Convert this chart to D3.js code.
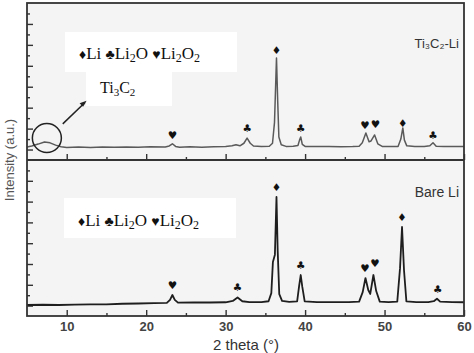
<!DOCTYPE html>
<html>
<head>
<meta charset="utf-8">
<script src="https://cdn.jsdelivr.net/npm/d3@7"></script>
<style>
  body { margin: 0; background: #fff; }
  svg { display: block; }
</style>
</head>
<body>
<div id="chart"></div>
<script>
var w = 474;
var h = 353;

// 2 theta (deg) vs intensity (a.u.)
var topPattern = [
  [5, 1.24], [5.6, 1.34], [6.4, 1.52], [7.2, 1.72], [7.9, 1.64], [8.6, 1.42], [9.3, 1.26],
  [10, 1.2], [11.5, 1.24], [13, 1.2], [14.5, 1.25], [16, 1.21], [17.5, 1.25], [19, 1.22],
  [20.5, 1.26], [22.4, 1.24], [22.9, 1.34], [23.3, 1.55], [23.7, 1.3], [24.2, 1.22],
  [25.5, 1.26], [27, 1.22], [28.5, 1.27], [30, 1.3], [30.8, 1.36], [31.3, 1.45],
  [31.8, 1.36], [32.3, 1.6], [32.7, 2.1], [33.1, 1.6], [33.5, 1.34], [34.5, 1.3],
  [35.5, 1.32], [35.9, 1.6], [36.15, 3.6], [36.4, 9.74], [36.55, 5.7], [36.7, 2.2],
  [37, 1.45], [37.6, 1.3], [38.5, 1.32], [39.1, 1.38], [39.3, 1.9], [39.45, 2.2],
  [39.65, 1.5], [40, 1.3], [41.5, 1.28], [43, 1.3], [44.5, 1.26], [46, 1.28],
  [46.8, 1.32], [47.2, 1.65], [47.65, 2.58], [48.05, 1.75], [48.3, 1.82], [48.75, 2.39],
  [49.15, 1.55], [49.7, 1.3], [50.8, 1.28], [51.7, 1.3], [52.05, 2.0], [52.3, 3.06],
  [52.5, 1.9], [52.8, 1.35], [53.8, 1.28], [55, 1.3], [55.7, 1.36], [56.1, 1.65],
  [56.5, 1.32], [57.5, 1.28], [59, 1.3], [60, 1.28]
];
var bottomPattern = [
  [5, 1.06], [7, 1.08], [9, 1.06], [11, 1.1], [13, 1.12], [15, 1.12], [17, 1.18],
  [19, 1.2], [21, 1.24], [22.6, 1.26], [23, 1.55], [23.3, 2.02], [23.6, 1.55],
  [24, 1.28], [26, 1.3], [28, 1.3], [30, 1.32], [30.9, 1.45], [31.5, 1.78],
  [32.1, 1.42], [33, 1.34], [34.5, 1.34], [35.4, 1.42], [35.75, 2.2], [35.95, 5.2],
  [36.2, 5.9], [36.4, 11.44], [36.55, 6.3], [36.75, 2.1], [37.1, 1.45], [38, 1.36],
  [39, 1.4], [39.25, 2.9], [39.45, 3.94], [39.65, 2.8], [39.95, 1.4], [41.5, 1.34],
  [43.5, 1.34], [45.5, 1.34], [46.8, 1.38], [47.25, 2.3], [47.6, 3.65], [47.95, 2.5],
  [48.2, 2.12], [48.6, 3.94], [48.95, 2.4], [49.4, 1.38], [50.5, 1.34], [51.6, 1.38],
  [51.95, 4.6], [52.2, 8.56], [52.45, 4.4], [52.75, 1.4], [54, 1.34], [55.5, 1.34],
  [56.2, 1.42], [56.6, 1.66], [57, 1.38], [58.5, 1.34], [60, 1.32]
];

// peak markers: [2 theta, phase, marker height]
var topMarkers = [
  [23.3, "heart", 2.4], [32.7, "club", 3.06], [36.4, "diamond", 10.5], [39.45, "club", 3.06],
  [47.55, "heart", 3.34], [48.85, "heart", 3.44], [52.3, "diamond", 3.53], [56.1, "club", 2.4]
];
var bottomMarkers = [
  [23.3, "heart", 2.98], [31.5, "club", 2.79], [36.4, "diamond", 12.4], [39.45, "club", 4.9],
  [47.55, "heart", 4.6], [48.8, "heart", 5.1], [52.2, "diamond", 9.5], [56.7, "club", 2.6]
];

var panelNames = ["Ti\u2083C\u2082-Li", "Bare Li"];
var glyph = { diamond: "\u2666", club: "\u2663", heart: "\u2665" };

var left = 27, right = 464;
var panels = [
  { name: panelNames[0], top: 3, bottom: 160, data: topPattern, markers: topMarkers, color: "#5a5a5a", lw: 1.5 },
  { name: panelNames[1], top: 160, bottom: 316, data: bottomPattern, markers: bottomMarkers, color: "#1e1e1e", lw: 1.8 }
];

var xScale = d3.scaleLinear().domain([5, 60]).range([left, right]);

var svg = d3.select("#chart")
            .append("svg")
            .attr("width", w)
            .attr("height", h)
            .style("font-family", "'Liberation Sans', Arial, sans-serif");

// plot area background
svg.append("rect")
    .attr("x", left).attr("y", 3)
    .attr("width", right - left).attr("height", 313)
    .attr("fill", "#f4f4f4");

panels.forEach(function(p, pi) {
    var yScale = d3.scaleLinear().domain([0, 15]).range([p.bottom, p.top]);
    var g = svg.append("g");

    // white boxes behind the legend text
    if (pi == 0) {
        g.append("rect").attr("x", 65).attr("y", 32).attr("width", 172).attr("height", 40).attr("fill", "#fff");
        g.append("rect").attr("x", 86).attr("y", 72).attr("width", 86).attr("height", 34).attr("fill", "#fff");
    } else {
        g.append("rect").attr("x", 64).attr("y", 198).attr("width", 172).attr("height", 40).attr("fill", "#fff");
    }

    // x ticks (inward) along the panel bottom
    var xAxis = d3.axisBottom(xScale)
                  .tickValues(d3.range(10, 61, 5))
                  .tickSize(-6)
                  .tickFormat(function(d) { return (pi == 1 && d % 10 == 0) ? d : ""; });
    var gx = g.append("g")
              .attr("transform", "translate(0," + p.bottom + ")")
              .call(xAxis);
    gx.select(".domain").remove();
    gx.selectAll(".tick line")
      .attr("y2", function(d) { return d % 10 == 0 ? -6 : -3; })
      .attr("stroke", "#333").attr("stroke-width", 1.4);
    gx.selectAll(".tick text")
      .attr("y", 6)
      .attr("fill", "#444")
      .attr("font-size", "13px")
      .attr("font-weight", "bold")
      .attr("font-family", "'Liberation Sans', Arial, sans-serif");

    // y ticks (inward), alternating length
    var yAxis = d3.axisLeft(yScale).tickValues(d3.range(1, 15)).tickSize(-6).tickFormat("");
    var gy = g.append("g")
              .attr("transform", "translate(" + left + ",0)")
              .call(yAxis);
    gy.select(".domain").remove();
    gy.selectAll(".tick line")
      .attr("x2", function(d) { return d % 2 ? 6 : 3; })
      .attr("stroke", "#333").attr("stroke-width", 1.4);

    // pattern
    var line = d3.line()
                 .x(function(d) { return xScale(d[0]); })
                 .y(function(d) { return yScale(d[1]); });
    g.append("path")
     .datum(p.data)
     .attr("d", line)
     .attr("fill", "none")
     .attr("stroke", p.color)
     .attr("stroke-width", p.lw)
     .attr("stroke-linejoin", "round");

    // peak markers
    g.selectAll("text.mark")
     .data(p.markers)
     .enter()
     .append("text")
     .attr("class", "mark")
     .attr("x", function(d) { return xScale(d[0]); })
     .attr("y", function(d) { return yScale(d[2]); })
     .attr("text-anchor", "middle")
     .attr("dominant-baseline", "central")
     .attr("font-size", "10.5px")
     .attr("font-family", "'DejaVu Sans', sans-serif")
     .attr("fill", "#111")
     .text(function(d) { return glyph[d[1]]; });

    // panel name
    g.append("text")
     .attr("x", 459)
     .attr("y", pi == 0 ? 48 : 197)
     .attr("text-anchor", "end")
     .attr("font-size", pi == 0 ? "13px" : "14px")
     .attr("fill", "#333")
     .text(p.name);

    // phase legend
    var leg = g.append("text")
               .attr("x", pi == 0 ? 79 : 78)
               .attr("y", pi == 0 ? 59 : 226)
               .attr("font-family", "'Liberation Serif', 'Times New Roman', serif")
               .attr("font-size", "17px")
               .attr("fill", "#111");
    leg.append("tspan").attr("font-size", "14px").text(glyph.diamond);
    leg.append("tspan").text("Li ");
    leg.append("tspan").attr("font-size", "14px").text(glyph.club);
    leg.append("tspan").text("Li");
    leg.append("tspan").attr("font-size", "12px").attr("dy", 3).text("2");
    leg.append("tspan").attr("dy", -3).text("O ");
    leg.append("tspan").attr("font-size", "14px").text(glyph.heart);
    leg.append("tspan").text("Li");
    leg.append("tspan").attr("font-size", "12px").attr("dy", 3).text("2");
    leg.append("tspan").attr("dy", -3).text("O");
    leg.append("tspan").attr("font-size", "12px").attr("dy", 3).text("2");

    if (pi == 0) {
        // Ti3C2 annotation: circle, arrow, label
        g.append("circle")
         .attr("cx", xScale(7.5)).attr("cy", yScale(2.1))
         .attr("r", 14.5)
         .attr("fill", "none").attr("stroke", "#222").attr("stroke-width", 1.5);
        g.append("line")
         .attr("x1", xScale(9.5)).attr("y1", yScale(3.45))
         .attr("x2", xScale(12.3)).attr("y2", yScale(5.5))
         .attr("stroke", "#222").attr("stroke-width", 1.5);
        var ax = xScale(12.5), ay = yScale(5.65);
        g.append("path")
         .attr("d", "M" + ax + "," + ay + "l-7,2.5l3.5,3.5z")
         .attr("fill", "#222");
        var lab = g.append("text")
                   .attr("x", 100).attr("y", 93)
                   .attr("font-family", "'Liberation Serif', 'Times New Roman', serif")
                   .attr("font-size", "16px")
                   .attr("fill", "#111");
        lab.append("tspan").text("Ti");
        lab.append("tspan").attr("font-size", "11px").attr("dy", 3).text("3");
        lab.append("tspan").attr("dy", -3).text("C");
        lab.append("tspan").attr("font-size", "11px").attr("dy", 3).text("2");
    }
});

// frame
svg.append("rect")
   .attr("x", left).attr("y", 3)
   .attr("width", right - left).attr("height", 313)
   .attr("fill", "none").attr("stroke", "#333").attr("stroke-width", 1.8);
svg.append("line")
   .attr("x1", left).attr("x2", right)
   .attr("y1", 160).attr("y2", 160)
   .attr("stroke", "#333").attr("stroke-width", 1.8);

// axis titles
svg.append("text")
   .attr("transform", "translate(14,160) rotate(-90)")
   .attr("text-anchor", "middle")
   .attr("font-size", "13px")
   .attr("fill", "#555")
   .text("Intensity (a.u.)");
svg.append("text")
   .attr("x", 246).attr("y", 350)
   .attr("text-anchor", "middle")
   .attr("font-size", "15px")
   .attr("fill", "#333")
   .text("2 theta (\u00b0)");
</script>
</body>
</html>
